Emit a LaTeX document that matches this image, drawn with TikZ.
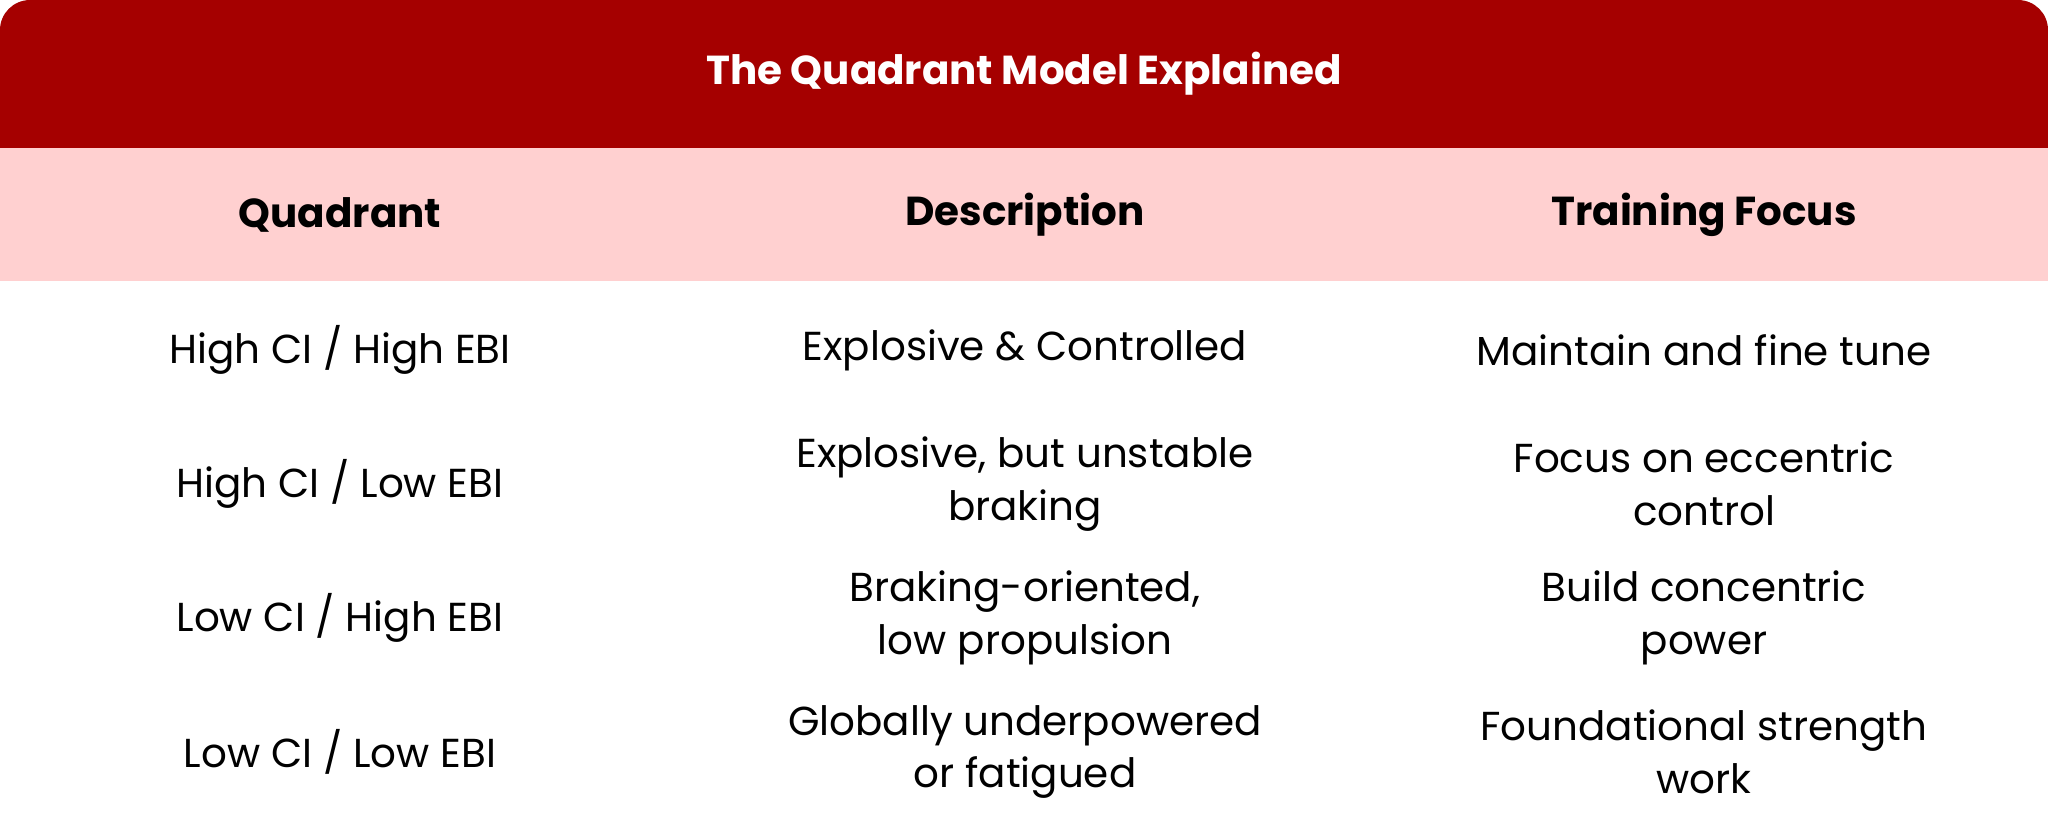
\documentclass[tikz,border=0pt]{standalone}
\usepackage{fontspec}
\setmainfont{Poppins}
\definecolor{titlered}{HTML}{A50000}
\definecolor{headpink}{HTML}{FFD0D0}
\begin{document}
\begin{tikzpicture}[x=0.01cm,y=-0.01cm,
  cell/.style={align=center,font=\fontsize{11.5}{15}\selectfont,text=black},
  head/.style={font=\fontsize{11.5}{15}\selectfont\bfseries,text=black},
  ttl/.style={font=\fontsize{11.5}{15}\selectfont\bfseries,text=white}]
\useasboundingbox (0,0) rectangle (2048,817);
\begin{scope}
\clip[rounded corners=0.3cm] (0,0) rectangle (2048,817);
\fill[white] (0,0) rectangle (2048,817);
\fill[titlered] (0,0) rectangle (2048,148);
\fill[headpink] (0,148) rectangle (2048,281);
\end{scope}
\node[ttl] (title) at (1024,74) {The Quadrant Model Explained};
\node[head] (h1) at (340,215) {Quadrant};
\node[head] (h2) at (1025,215) {Description};
\node[head] (h3) at (1704,215) {Training Focus};
\node[cell] (a1) at (340,350) {High CI / High EBI};
\node[cell] (b1) at (1025,350) {Explosive \& Controlled};
\node[cell] (c1) at (1704,350) {Maintain and fine tune};
\node[cell] (a2) at (340,484) {High CI / Low EBI};
\node[cell] (b2) at (1025,484) {Explosive, but unstable\\braking};
\node[cell] (c2) at (1704,484) {Focus on eccentric\\control};
\node[cell] (a3) at (340,618) {Low CI / High EBI};
\node[cell] (b3) at (1025,618) {Braking-oriented,\\ low propulsion};
\node[cell] (c3) at (1704,618) {Build concentric\\power};
\node[cell] (a4) at (340,752) {Low CI / Low EBI};
\node[cell] (b4) at (1025,752) {Globally underpowered\\or fatigued};
\node[cell] (c4) at (1704,752) {Foundational strength\\work};
\end{tikzpicture}
\end{document}
